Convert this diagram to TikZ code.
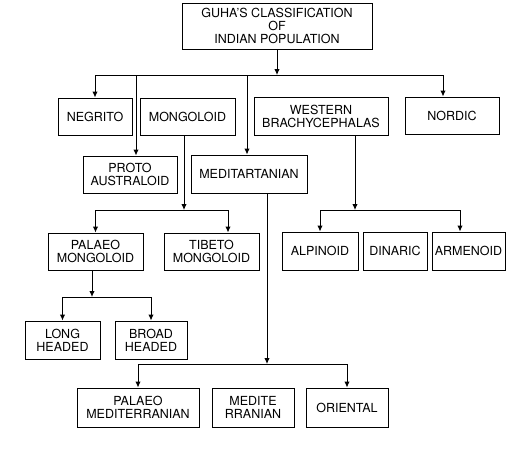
\documentclass[tikz,border=0pt]{standalone}
\usepackage{fontspec}
\setmainfont{TeX Gyre Heros}
\usepackage{tikz}
\usetikzlibrary{calc,arrows.meta}

\begin{document}
\begin{tikzpicture}[x=1pt,y=-1pt,
		box/.style={draw,line width=1pt,align=center,inner sep=0pt,font=\fontsize{12.5}{13}\selectfont},
		arr/.style={-{Latex[length=6pt,width=5.5pt]},line width=1pt},
		both/.style={{Latex[length=6pt,width=5.5pt]}-{Latex[length=6pt,width=5.5pt]},line width=1pt}]
		\useasboundingbox (0,0) rectangle (517,455);
		% boxes
		\node[box,minimum width=190pt,minimum height=46pt] (guha) at (277,26) {GUHA'S CLASSIFICATION\\OF\\INDIAN POPULATION};
		\node[box,minimum width=74pt,minimum height=37pt] (negrito) at (95,116.5) {NEGRITO};
		\node[box,minimum width=95pt,minimum height=37pt] (mongoloid) at (187.5,116.5) {MONGOLOID};
		\node[box,minimum width=134pt,minimum height=38pt] (western) at (321,116) {WESTERN\\BRACHYCEPHALAS};
		\node[box,minimum width=94pt,minimum height=37pt] (nordic) at (452,115.5) {NORDIC};
		\node[box,minimum width=94pt,minimum height=37pt] (proto) at (130,174.5) {PROTO\\AUSTRALOID};
		\node[box,minimum width=116pt,minimum height=38pt] (medit) at (249,174) {MEDITARTANIAN};
		\node[box,minimum width=95pt,minimum height=37pt] (palmong) at (95.5,251.5) {PALAEO\\MONGOLOID};
		\node[box,minimum width=95pt,minimum height=37pt] (tibeto) at (211.5,251.5) {TIBETO\\MONGOLOID};
		\node[box,minimum width=76pt,minimum height=38pt] (alpinoid) at (320,251) {ALPINOID};
		\node[box,minimum width=64pt,minimum height=38pt] (dinaric) at (395,251) {DINARIC};
		\node[box,minimum width=73pt,minimum height=38pt] (armenoid) at (468.5,251) {ARMENOID};
		\node[box,minimum width=75pt,minimum height=38pt] (long) at (62.5,340) {LONG\\HEADED};
		\node[box,minimum width=72pt,minimum height=38pt] (broad) at (151,340) {BROAD\\HEADED};
		\node[box,minimum width=122pt,minimum height=39pt] (palmed) at (138,407.5) {PALAEO\\MEDITERRANIAN};
		\node[box,minimum width=82pt,minimum height=39pt] (medite) at (253,407.5) {MEDITE\\RRANIAN};
		\node[box,minimum width=82pt,minimum height=39pt] (oriental) at (347,407.5) {ORIENTAL};
		% connector ends
		\coordinate (top bus) at (277,75);
		\coordinate (proto in) at ([xshift=6pt]proto.north);
		\coordinate (medit in) at ([xshift=-2pt]medit.north);
		\coordinate (nordic in) at ([xshift=-9pt]nordic.north);
		\coordinate (mongo out) at ([xshift=-3.5pt]mongoloid.south);
		\coordinate (mongo bus) at (184,210);
		\coordinate (tibeto in) at ([xshift=16.5pt]tibeto.north);
		\coordinate (west out) at ([xshift=34pt]western.south);
		\coordinate (west bus) at (355,210);
		\coordinate (armenoid in) at ([xshift=-8.5pt]armenoid.north);
		\coordinate (medit out) at ([xshift=18pt]medit.south);
		\coordinate (medit bus) at (267,364);
		\coordinate (palmong out) at ([xshift=-3.5pt]palmong.south);
		\coordinate (palmong bus) at (92,297);
		% connectors
		\draw[arr] (guha.south) -- (top bus);
		\draw[both] (negrito.north) -- (negrito.north |- top bus) -- (nordic in |- top bus) -- (nordic in);
		\draw[arr] (proto in |- top bus) -- (proto in);
		\draw[arr] (medit in |- top bus) -- (medit in);
		\draw[arr] (mongo out) -- (mongo bus);
		\draw[both] (palmong.north) -- (palmong.north |- mongo bus) -- (tibeto in |- mongo bus) -- (tibeto in);
		\draw[arr] (west out) -- (west bus);
		\draw[both] (alpinoid.north) -- (alpinoid.north |- west bus) -- (armenoid in |- west bus) -- (armenoid in);
		\draw[arr] (medit out) -- (medit bus);
		\draw[both] (palmed.north) -- (palmed.north |- medit bus) -- (oriental.north |- medit bus) -- (oriental.north);
		\draw[arr] (palmong out) -- (palmong bus);
		\draw[both] (long.north) -- (long.north |- palmong bus) -- (broad.north |- palmong bus) -- (broad.north);
	\end{tikzpicture}
\end{document}
